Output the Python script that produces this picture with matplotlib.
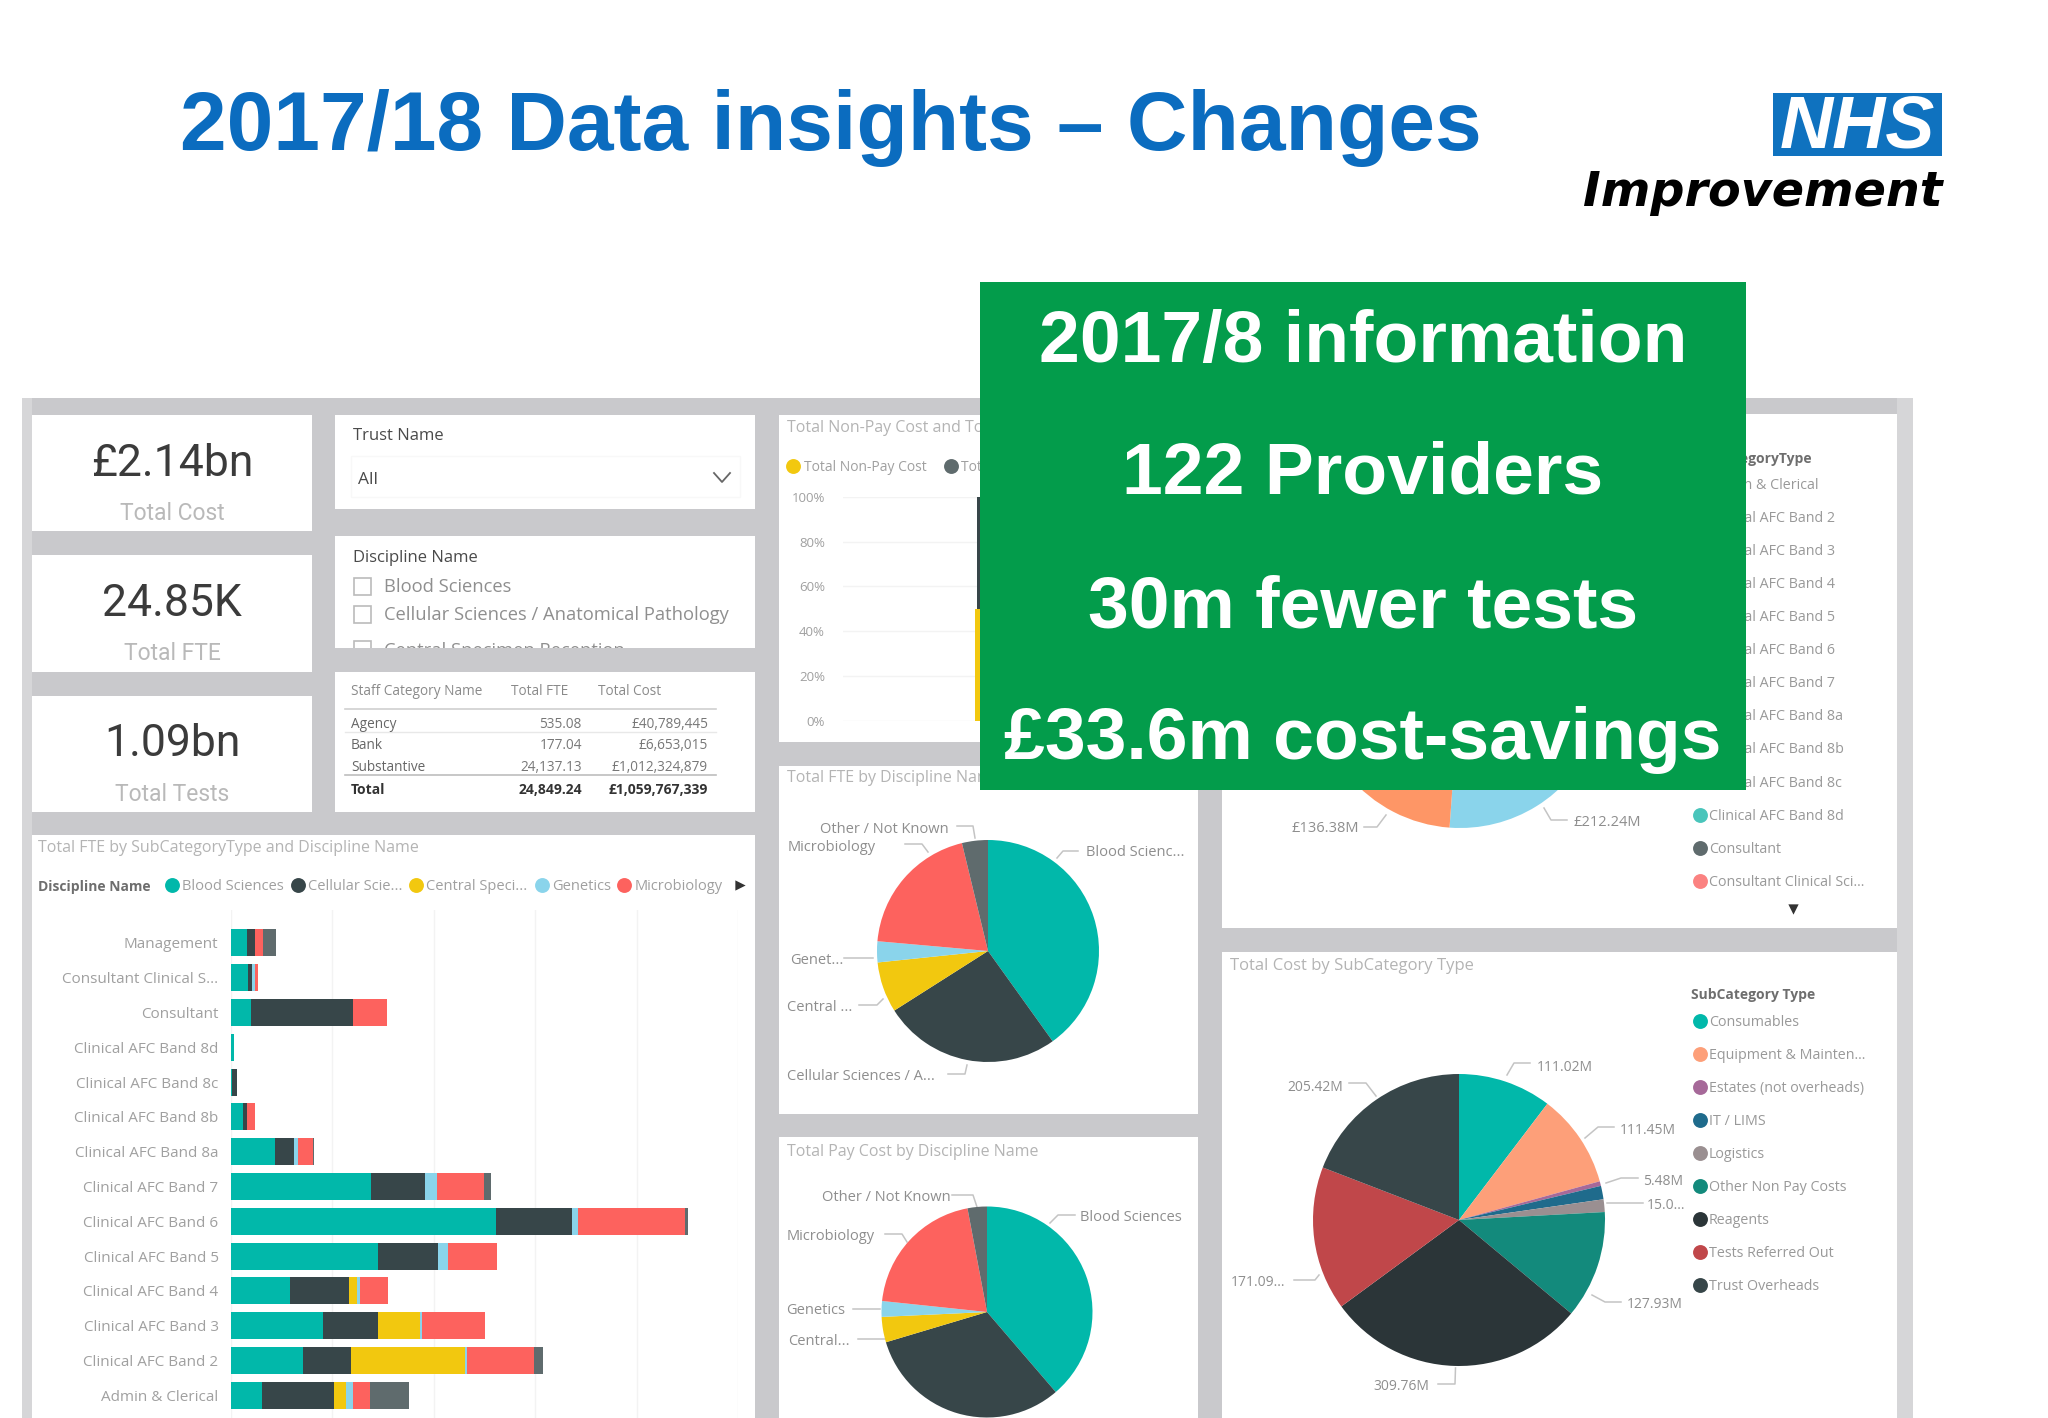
import matplotlib
matplotlib.use("Agg")
import matplotlib.pyplot as plt
from matplotlib.patches import Rectangle

W, H = 2048, 1418

# ---------- data ----------
band_labels = ["Management", "Consultant Clinical S...", "Consultant", "Clinical AFC Band 8d",
               "Clinical AFC Band 8c", "Clinical AFC Band 8b", "Clinical AFC Band 8a",
               "Clinical AFC Band 7", "Clinical AFC Band 6", "Clinical AFC Band 5",
               "Clinical AFC Band 4", "Clinical AFC Band 3", "Clinical AFC Band 2", "Admin & Clerical"]
fte_blood = [158, 167, 196, 29, 14, 120, 435, 1383, 2612, 1445, 584, 909, 708, 301]
fte_cellular = [77, 38, 1005, 0, 48, 38, 182, 526, 746, 598, 579, 541, 474, 713]
fte_central = [0, 0, 0, 0, 0, 0, 0, 0, 0, 0, 81, 412, 1129, 124]
fte_genetics = [0, 33, 0, 0, 0, 0, 48, 124, 62, 100, 29, 19, 19, 67]
fte_micro = [77, 29, 340, 0, 0, 77, 144, 464, 1057, 483, 278, 627, 660, 167]
fte_other = [134, 0, 0, 0, 0, 0, 14, 67, 29, 0, 0, 0, 91, 388]
fte_ticks = [0, 1000, 2000, 3000, 4000, 5000]

discipline_names = ["Blood Sciences", "Cellular Scie...", "Central Speci...", "Genetics", "Microbiology"]
discipline_colors = ["#01B8AA", "#374649", "#F2C80F", "#8AD4EB", "#FD625E", "#5F6B6D"]

fte_by_discipline = [9968, 6434, 1830, 760, 4926, 938]
pay_by_discipline = [418, 342, 42, 26, 220, 32]

subcat_names = ["Consumables", "Equipment & Mainten...", "Estates (not overheads)", "IT / LIMS", "Logistics",
                "Other Non Pay Costs", "Reagents", "Tests Referred Out", "Trust Overheads"]
subcat_cost = [111.02, 111.45, 5.48, 16.0, 15.0, 127.93, 309.76, 171.09, 205.42]
subcat_colors = ["#01B8AA", "#FD9F79", "#A66999", "#1F6B8C", "#9A8F91", "#138A7C", "#2B3538", "#C0474A", "#374649"]

# Total cost by staff group: only two slices are visible, the rest sit behind the green box
staff_names = ["Admin & Clerical", "Clinical AFC Band 2", "Clinical AFC Band 3", "Clinical AFC Band 4",
               "Clinical AFC Band 5", "Clinical AFC Band 6", "Clinical AFC Band 7", "Clinical AFC Band 8a",
               "Clinical AFC Band 8b", "Clinical AFC Band 8c", "Clinical AFC Band 8d", "Consultant",
               "Consultant Clinical Sci..."]
staff_colors = ["#01B8AA", "#374649", "#FD625E", "#F2C80F", "#5F6B6D", "#8AD4EB", "#FE9666", "#A66999",
                "#3599B8", "#DFBFBF", "#4AC5BB", "#5F6B6D", "#FB8281"]
staff_pie_values = [329.5, 212.24, 136.38, 381.0]
staff_pie_colors = ["#374649", "#8AD4EB", "#FE9666", "#5F6B6D"]

share_nonpay = [50]
share_pay = [50]
pct_ticks = [0, 20, 40, 60, 80, 100]

table_rows = [("Agency", "535.08", "£40,789,445"), ("Bank", "177.04", "£6,653,015"),
              ("Substantive", "24,137.13", "£1,012,324,879")]
table_total = ("Total", "24,849.24", "£1,059,767,339")

headlines = ["2017/8 information", "122 Providers", "30m fewer tests", "£33.6m cost-savings"]

# ---------- helpers ----------
plt.rcParams["font.family"] = ["Open Sans", "DejaVu Sans"]
fig = plt.figure(figsize=(W / 100, H / 100), dpi=100, facecolor="white")


def ax_px(x0, y0, x1, y1, z=1):
    a = fig.add_axes([x0 / W, 1 - y1 / H, (x1 - x0) / W, (y1 - y0) / H], zorder=z)
    return a


bg = ax_px(0, 0, W, H, 0)
bg.set_xlim(0, W)
bg.set_ylim(H, 0)
bg.axis("off")

top = ax_px(0, 0, W, H, 5)
top.set_xlim(0, W)
top.set_ylim(H, 0)
top.axis("off")
top.patch.set_alpha(0)

GREY = "#c9c9cc"
TITLE = "#b4b4b4"
LABEL = "#8c8c8c"
DARK = "#4a4a4a"


def rect(x0, y0, x1, y1, fc="white", ec="none", lw=0, z=1, a=bg):
    p = Rectangle((x0, y0), x1 - x0, y1 - y0, facecolor=fc, edgecolor=ec, linewidth=lw, zorder=z)
    a.add_patch(p)
    return p


def t(x, y, s, size=10, color=LABEL, ha="left", weight="normal", family=None, a=bg, z=3, style="normal"):
    kw = {}
    if family:
        kw["family"] = family
    dy = 1.5 if a is bg else 0
    return a.text(x, y + dy, s, fontsize=size, color=color, ha=ha, va="center", fontweight=weight,
                  zorder=z, fontstyle=style, **kw)


def leader(pts, color="#c4c4c4"):
    bg.plot([p[0] for p in pts], [p[1] for p in pts], color=color, lw=1.1, zorder=2)


def dot(x, y, c, s=115):
    bg.scatter([x], [y], s=s, color=c, zorder=3, linewidths=0)


def pie_px(cx, cy, r, values, colors):
    a = ax_px(cx - r, cy - r, cx + r, cy + r, 1)
    a.pie(values, colors=colors, startangle=90, counterclock=False, radius=1)
    a.set_xlim(-1, 1)
    a.set_ylim(-1, 1)
    a.axis("off")
    return a


# ---------- dashboard panels ----------
rect(22, 398, 1913, H, fc="#d6d6d8", z=0)
rect(32, 398, 1897, H, fc=GREY, z=0.5)
for box in [(32, 415, 312, 531), (32, 555, 312, 672), (32, 696, 312, 812),
            (335, 415, 755, 509), (335, 536, 755, 648), (335, 672, 755, 812),
            (32, 835, 755, H), (779, 415, 1198, 742), (779, 766, 1198, 1114),
            (779, 1137, 1198, H), (1222, 414, 1897, 928), (1222, 952, 1897, H)]:
    rect(*box)

# KPI cards
for big, small, y1, y2 in [("£2.14bn", "Total Cost", 462, 512), ("24.85K", "Total FTE", 602, 652),
                           ("1.09bn", "Total Tests", 743, 793)]:
    t(172, y1, big, 32, "#3b3b3b", "center", family="Roboto")
    t(172, y2, small, 16.5, "#b9b9b9", "center", family="Roboto")

# slicers
t(353, 434, "Trust Name", 12, DARK)
rect(351, 456, 740, 497, fc="white", ec="#f8f8f8", lw=1)
t(358, 479, "All", 12.5, DARK)
bg.plot([714, 722, 730], [473, 482, 473], color="#666666", lw=1.3, zorder=3)
t(353, 556, "Discipline Name", 12, DARK)
panel_clip = rect(335, 536, 755, 648)
for y, s in [(586, "Blood Sciences"), (614, "Cellular Sciences / Anatomical Pathology"),
             (649, "Central Specimen Reception")]:
    box = rect(354, y - 8, 371, y + 9, fc="white", ec="#bbbbbb", lw=1.2, z=2)
    box.set_clip_path(panel_clip)
    tx = t(384, y, s, 13.2, "#8f8f8f")
    tx.set_clip_on(True)
    tx.set_clip_path(panel_clip)

# table
t(351, 690, "Staff Category Name", 9.8, "#8a8a8a")
t(511, 690, "Total FTE", 9.8, "#8a8a8a")
t(598, 690, "Total Cost", 9.8, "#8a8a8a")
bg.plot([345, 716], [709, 709], color="#d0d0d0", lw=1.2, zorder=2)
bg.plot([345, 716], [732, 732], color="#e8e8e8", lw=1, zorder=2)
bg.plot([345, 716], [775, 775], color="#bdbdbd", lw=1.2, zorder=2)
for y, row in zip([723, 744, 766], table_rows):
    t(351, y, row[0], 9.8, "#666666")
    t(582, y, row[1], 9.8, "#777777", "right")
    t(708, y, row[2], 9.8, "#777777", "right")
t(351, 788, table_total[0], 10, "#333333", weight="bold")
t(582, 788, table_total[1], 10, "#333333", "right", weight="bold")
t(708, 788, table_total[2], 10, "#333333", "right", weight="bold")

# ---------- stacked FTE bars ----------
t(38, 847, "Total FTE by SubCategoryType and Discipline Name", 11.5, TITLE)
t(38, 885, "Discipline Name", 10, "#6e6e6e", weight="bold")
for cx, tx_, name, col in zip([172, 298, 416, 542, 624], [182, 308, 426, 552, 635], discipline_names, discipline_colors[:3] + discipline_colors[3:5]):
    dot(cx, 885, col)
    t(tx_, 885, name, 10.5, "#a0a0a0")
bg.scatter([740], [885], marker=">", s=55, color="#333333", zorder=3, linewidths=0)

axb = ax_px(231, 910, 738, H, 1)
axb.patch.set_alpha(0)
series = [fte_blood, fte_cellular, fte_central, fte_genetics, fte_micro, fte_other]
left = [0] * len(band_labels)
ypos = list(range(len(band_labels)))
for vals, col in zip(series, discipline_colors):
    axb.barh(ypos, vals, left=left, height=0.776, color=col, zorder=2)
    left = [a + b for a, b in zip(left, vals)]
axb.set_xlim(0, 5000)
axb.set_ylim(13.65, -0.948)
axb.set_xticks(fte_ticks)
axb.set_xticklabels([""] * len(fte_ticks))
axb.set_yticks(ypos)
axb.set_yticklabels(band_labels, fontsize=11, color="#a0a0a0")
axb.tick_params(length=0, pad=9)
axb.grid(axis="x", color="#f3f3f3", lw=1, zorder=0)
axb.set_axisbelow(True)
for s in axb.spines.values():
    s.set_visible(False)

# ---------- 100% stacked chart (mostly hidden) ----------
t(787, 427, "Total Non-Pay Cost and Total Pay Cost", 11.5, TITLE)
dot(793, 466, "#F2C80F")
t(804, 466, "Total Non-Pay Cost", 10, "#a0a0a0")
dot(951, 466, "#5F6B6D")
t(961, 466, "Total Pay Cost", 10, "#a0a0a0")
axp = ax_px(843, 497, 1190, 720.5, 1)
axp.patch.set_alpha(0)
axp.bar([0.38], share_nonpay, width=0.3, align="edge", color="#F2C80F", zorder=2)
axp.bar([0.385], share_pay, bottom=share_nonpay, width=0.3, align="edge", color="#374649", zorder=2)
axp.set_xlim(0, 1)
axp.set_ylim(0, 100)
axp.set_xticks([])
axp.set_yticks(pct_ticks)
axp.set_yticklabels([f"{v}%" for v in pct_ticks], fontsize=9.5, color="#a0a0a0")
axp.tick_params(length=0, pad=13)
axp.grid(axis="y", color="#f3f3f3", lw=1)
axp.set_axisbelow(True)
for s in axp.spines.values():
    s.set_visible(False)

# ---------- discipline pies ----------
t(787, 777, "Total FTE by Discipline Name", 11.5, TITLE)
pie_px(988, 951, 111, fte_by_discipline, discipline_colors)
for x, y, s, ha, pts in [
    (949, 828, "Other / Not Known", "right", [(957, 826), (973, 826), (975, 838)]),
    (876, 846, "Microbiology", "right", [(905, 844), (922, 844), (928, 852)]),
    (1086, 851, "Blood Scienc...", "left", [(1078, 851), (1063, 851), (1057, 858)]),
    (790, 959, "Genet...", "left", [(844, 958), (873, 958)]),
    (787, 1006, "Central ...", "left", [(859, 1005), (877, 1005), (883, 999)]),
    (787, 1075, "Cellular Sciences / A...", "left", [(948, 1074), (965, 1074), (967, 1065)]),
]:
    t(x, y, s, 10.5, "#8e8e8e", ha)
    leader(pts)

t(787, 1150, "Total Pay Cost by Discipline Name", 11.5, TITLE)
pie_px(987, 1312, 105.5, pay_by_discipline, discipline_colors)
for x, y, s, ha, pts in [
    (951, 1196, "Other / Not Known", "right", [(952, 1195), (973, 1195), (977, 1207)]),
    (787, 1235, "Microbiology", "left", [(885, 1234), (902, 1234), (907, 1242)]),
    (1080, 1216, "Blood Sciences", "left", [(1075, 1215), (1058, 1215), (1050, 1223)]),
    (786, 1309, "Genetics", "left", [(853, 1309), (880, 1309)]),
    (788, 1340, "Central...", "left", [(858, 1339), (885, 1339)]),
]:
    t(x, y, s, 10.5, "#8e8e8e", ha)
    leader(pts)

# ---------- cost by staff group (mostly hidden) ----------
pie_px(1460, 683, 145, staff_pie_values, staff_pie_colors)
t(1574, 821, "£212.24M", 10.5, "#8e8e8e")
leader([(1544, 808), (1551, 820), (1567, 820)])
t(1291, 827, "£136.38M", 10.5, "#8e8e8e")
leader([(1386, 815), (1377, 827), (1364, 827)])
t(1691, 457, "SubCategoryType", 10, "#6e6e6e", weight="bold")
for i, (name, col) in enumerate(zip(staff_names, staff_colors)):
    y = 484 + i * 33.06
    dot(1700, y, col)
    t(1709, y, name, 10.3, "#999999")
bg.scatter([1793], [909], marker="v", s=55, color="#333333", zorder=3, linewidths=0)

# ---------- cost by subcategory ----------
t(1230, 965, "Total Cost by SubCategory Type", 12, TITLE)
pie_px(1459, 1220, 146, subcat_cost, subcat_colors)
for x, y, s, pts in [
    (1537, 1066, "111.02M", [(1530, 1063), (1514, 1063), (1507, 1075)]),
    (1287, 1086, "205.42M", [(1349, 1083), (1366, 1083), (1376, 1096)]),
    (1620, 1129, "111.45M", [(1614, 1127), (1598, 1127), (1585, 1138)]),
    (1643, 1180, "5.48M", [(1638, 1178), (1621, 1178), (1606, 1183)]),
    (1647, 1204, "15.0...", [(1643, 1203), (1607, 1203)]),
    (1627, 1303, "127.93M", [(1621, 1302), (1605, 1302), (1592, 1295)]),
    (1231, 1281, "171.09...", [(1294, 1280), (1315, 1280), (1319, 1275)]),
    (1373, 1385, "309.76M", [(1438, 1384), (1455, 1384), (1455.5, 1368)]),
]:
    t(x, y, s, 10, "#8e8e8e")
    leader(pts)
t(1691, 994, "SubCategory Type", 10, "#6e6e6e", weight="bold")
for i, (name, col) in enumerate(zip(subcat_names, subcat_colors)):
    y = 1021 + i * 33
    dot(1700, y, col)
    t(1709, y, name, 10.3, "#999999")

# ---------- slide overlay ----------
t(180, 128, "2017/18 Data insights – Changes", 60.4, "#0B6CBF", weight="bold", family="Liberation Sans", a=top)
rect(1773, 93, 1942, 156, fc="#0F72BF", z=2, a=top)
t(1857, 129, "NHS", 53, "white", "center", weight="bold", family="Liberation Sans", a=top, style="italic")
t(1943, 193, "Improvement", 34.3, "black", "right", weight="bold", family="DejaVu Sans", a=top, style="oblique")

rect(980, 282, 1746, 790, fc="#039C4B", z=2, a=top)
for y, s in zip([343, 475, 608, 740], headlines):
    t(1363, y, s, 52.8, "white", "center", weight="bold", family="Liberation Sans", a=top)

fig.savefig("out.png", dpi=100, facecolor="white")
